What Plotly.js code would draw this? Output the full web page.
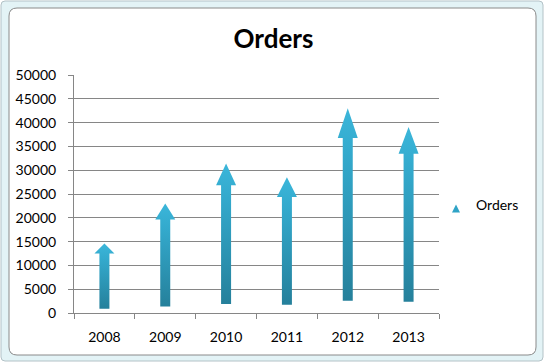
<!DOCTYPE html>
<html>
<head>
<meta charset="utf-8">
<script src="https://cdn.plot.ly/plotly-3.0.1.min.js"></script>
<style>html,body{margin:0;padding:0;background:#fff;}#chart{width:547px;height:363px;}</style>
</head>
<body>
<div id="chart"></div>
<script>
// ---- data ----
const years = ['2008', '2009', '2010', '2011', '2012', '2013'];
const orders = [14600, 23000, 31400, 28500, 43000, 39100];
const yTicks = [0, 5000, 10000, 15000, 20000, 25000, 30000, 35000, 40000, 45000, 50000];
const seriesName = 'Orders';

// ---- layout geometry (pixels) ----
const W = 547, H = 363;
const M = {l: 74, r: 108, t: 75, b: 50};
const plotW = W - M.l - M.r, plotH = H - M.t - M.b;
const unitPx = plotW / years.length;
const shaftHalf = 5 / unitPx, headHalf = 10 / unitPx;

const traces = [];
years.forEach((yr, i) => {
  const v = orders[i];
  const bottom = v * 0.06, headBase = v * 0.855;
  const xs = [i - shaftHalf, i - shaftHalf, i - headHalf, i, i + headHalf, i + shaftHalf, i + shaftHalf, i - shaftHalf];
  const ys = [bottom, headBase, headBase, v, headBase, headBase, bottom, bottom];
  traces.push({
    type: 'scatter', x: xs, y: ys, mode: 'lines', fill: 'toself',
    line: {width: 0, color: 'rgba(0,0,0,0)'},
    fillgradient: {type: 'vertical', colorscale: [[0, '#25809b'], [0.75, '#33a9cc'], [1, '#3bb6da']]},
    showlegend: false, hoverinfo: 'skip', legendgroup: 'o'
  });
});
// legend entry
traces.push({
  type: 'scatter', x: [null], y: [null], mode: 'markers', name: seriesName, legendgroup: 'o',
  marker: {symbol: 'arrow-up', size: 8, color: '#2fa3c6'}
});
// boundary ticks axis
traces.push({type: 'scatter', x: [null], y: [null], xaxis: 'x2', showlegend: false, hoverinfo: 'skip'});

function px2x(p) { return (p - M.l) / plotW; }
function px2y(p) { return (H - M.b - p) / plotH; }
function roundRect(x0, y0, x1, y1, r) {
  const X = px2x, Y = px2y;
  return `M${X(x0 + r)},${Y(y0)} L${X(x1 - r)},${Y(y0)} Q${X(x1)},${Y(y0)} ${X(x1)},${Y(y0 + r)} ` +
    `L${X(x1)},${Y(y1 - r)} Q${X(x1)},${Y(y1)} ${X(x1 - r)},${Y(y1)} L${X(x0 + r)},${Y(y1)} ` +
    `Q${X(x0)},${Y(y1)} ${X(x0)},${Y(y1 - r)} L${X(x0)},${Y(y0 + r)} Q${X(x0)},${Y(y0)} ${X(x0 + r)},${Y(y0)} Z`;
}

const font = {family: 'Lato, "Noto Sans", sans-serif', size: 14, color: '#000'};
const boundaries = years.map((_, i) => i - 0.5).concat([years.length - 0.5]);

const layout = {
  width: W, height: H,
  margin: {l: M.l, r: M.r, t: M.t, b: M.b, pad: 0},
  paper_bgcolor: '#ffffff', plot_bgcolor: 'rgba(0,0,0,0)',
  font: font,
  title: {text: '<b>Orders</b>', font: {family: 'Lato, "Noto Sans", sans-serif', size: 26, color: '#000'},
    xref: 'container', x: 0.5, xanchor: 'center', y: 1 - 39 / H, yanchor: 'middle'},
  xaxis: {range: [-0.5, years.length - 0.5], tickvals: years.map((_, i) => i), ticktext: years,
    ticks: '', showgrid: false, zeroline: false, showline: true, linecolor: '#868686', linewidth: 1,
    tickfont: font, fixedrange: true, ticklabelstandoff: 11},
  xaxis2: {range: [-0.5, years.length - 0.5], overlaying: 'x', side: 'bottom', tickvals: boundaries,
    showticklabels: false, ticks: 'outside', ticklen: 5, tickcolor: '#868686', showgrid: false,
    zeroline: false, showline: false, fixedrange: true},
  yaxis: {range: [0, 50000], tickvals: yTicks, ticktext: yTicks.map(String), ticks: 'outside', ticklen: 5,
    tickcolor: '#868686', showgrid: true, gridcolor: '#868686', gridwidth: 1, zeroline: false,
    showline: true, linecolor: '#868686', linewidth: 1, tickfont: font, fixedrange: true, ticklabelstandoff: 9},
  showlegend: true,
  legend: {x: px2x(436), xanchor: 'left', y: px2y(205), yanchor: 'middle', font: font,
    bgcolor: 'rgba(0,0,0,0)', itemwidth: 30, tracegroupgap: 0},
  shapes: [
    {type: 'path', xref: 'paper', yref: 'paper', layer: 'below', path: roundRect(1, 1, 543, 361, 4),
      fillcolor: '#e3f3f6', line: {color: '#b3c2c7', width: 1}},
    {type: 'path', xref: 'paper', yref: 'paper', layer: 'below', path: roundRect(9, 8, 536, 355, 8),
      fillcolor: '#ffffff', line: {color: '#8a8a8a', width: 1}}
  ]
};

Plotly.newPlot('chart', traces, layout, {staticPlot: true, displayModeBar: false});
</script>
</body>
</html>
